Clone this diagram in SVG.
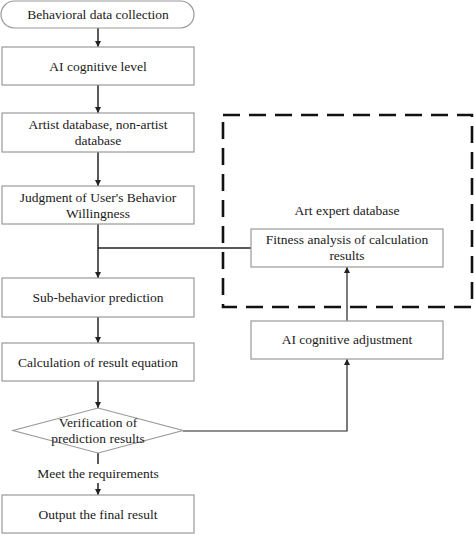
<svg xmlns="http://www.w3.org/2000/svg" width="474" height="535" viewBox="0 0 474 535">
<defs>
<style>
.box{fill:#fff;stroke:#9a9a9a;stroke-width:1.2}
.t{font-family:"Liberation Serif","Times New Roman",serif;font-size:13.5px;fill:#1a1a1a;text-anchor:middle}
.c{fill:none;stroke:#222;stroke-width:1.5}
.c2{fill:none;stroke:#222;stroke-width:1.2}
.dash{fill:none;stroke:#111;stroke-width:2.6;stroke-dasharray:17 9}
</style>
<marker id="ah" viewBox="0 0 10 10" refX="10" refY="5" markerWidth="6" markerHeight="6" markerUnits="userSpaceOnUse" orient="auto">
<path d="M0,0 L10,5 L0,10 z" fill="#222"/>
</marker>
</defs>
<rect width="474" height="535" fill="#fff"/>
<g id="expert-db">
<rect class="dash" x="223" y="115" width="249" height="192"/>
<text class="t" x="347" y="215">Art expert database</text>
</g>
<g id="connectors">
<line class="c" x1="98" y1="28" x2="98" y2="47" marker-end="url(#ah)"/>
<line class="c" x1="98" y1="85" x2="98" y2="113" marker-end="url(#ah)"/>
<line class="c" x1="98" y1="152" x2="98" y2="186" marker-end="url(#ah)"/>
<line class="c" x1="98" y1="224" x2="98" y2="278" marker-end="url(#ah)"/>
<line class="c" x1="98" y1="248" x2="251" y2="248"/>
<line class="c" x1="98" y1="317" x2="98" y2="343" marker-end="url(#ah)"/>
<line class="c" x1="98" y1="381" x2="98" y2="408" marker-end="url(#ah)"/>
<line class="c" x1="98" y1="453" x2="98" y2="464"/>
<line class="c" x1="98" y1="483" x2="98" y2="495" marker-end="url(#ah)"/>
<polyline class="c2" points="183,431 347,431 347,359" marker-end="url(#ah)"/>
<line class="c2" x1="347" y1="321" x2="347" y2="267" marker-end="url(#ah)"/>
</g>
<g id="start">
<rect class="box" x="1" y="1" width="193" height="27" rx="13.5"/>
<text class="t" x="98" y="19">Behavioral data collection</text>
</g>
<g id="ai-level">
<rect class="box" x="2" y="47" width="192" height="38"/>
<text class="t" x="98" y="71">AI cognitive level</text>
</g>
<g id="artist-db">
<rect class="box" x="2" y="113" width="192" height="39"/>
<text class="t" x="98" y="129">Artist database, non-artist</text>
<text class="t" x="98" y="145">database</text>
</g>
<g id="judgment">
<rect class="box" x="2" y="186" width="192" height="38"/>
<text class="t" x="98" y="202">Judgment of User's Behavior</text>
<text class="t" x="98" y="218">Willingness</text>
</g>
<g id="sub-behavior">
<rect class="box" x="2" y="278" width="192" height="39"/>
<text class="t" x="98" y="302">Sub-behavior prediction</text>
</g>
<g id="calculation">
<rect class="box" x="2" y="343" width="192" height="38"/>
<text class="t" x="98" y="367">Calculation of result equation</text>
</g>
<g id="verification">
<polygon class="box" points="98,408 183,430.5 98,453 13,430.5"/>
<text class="t" x="98" y="427">Verification of</text>
<text class="t" x="98" y="443">prediction results</text>
</g>
<g id="meet-label">
<text class="t" x="98" y="478">Meet the requirements</text>
</g>
<g id="output">
<rect class="box" x="2" y="495" width="192" height="38"/>
<text class="t" x="98" y="519">Output the final result</text>
</g>
<g id="fitness">
<rect class="box" x="251" y="229" width="192" height="38"/>
<text class="t" x="347" y="244">Fitness analysis of calculation</text>
<text class="t" x="347" y="260">results</text>
</g>
<g id="ai-adjust">
<rect class="box" x="251" y="321" width="192" height="38"/>
<text class="t" x="347" y="344">AI cognitive adjustment</text>
</g>
</svg>
